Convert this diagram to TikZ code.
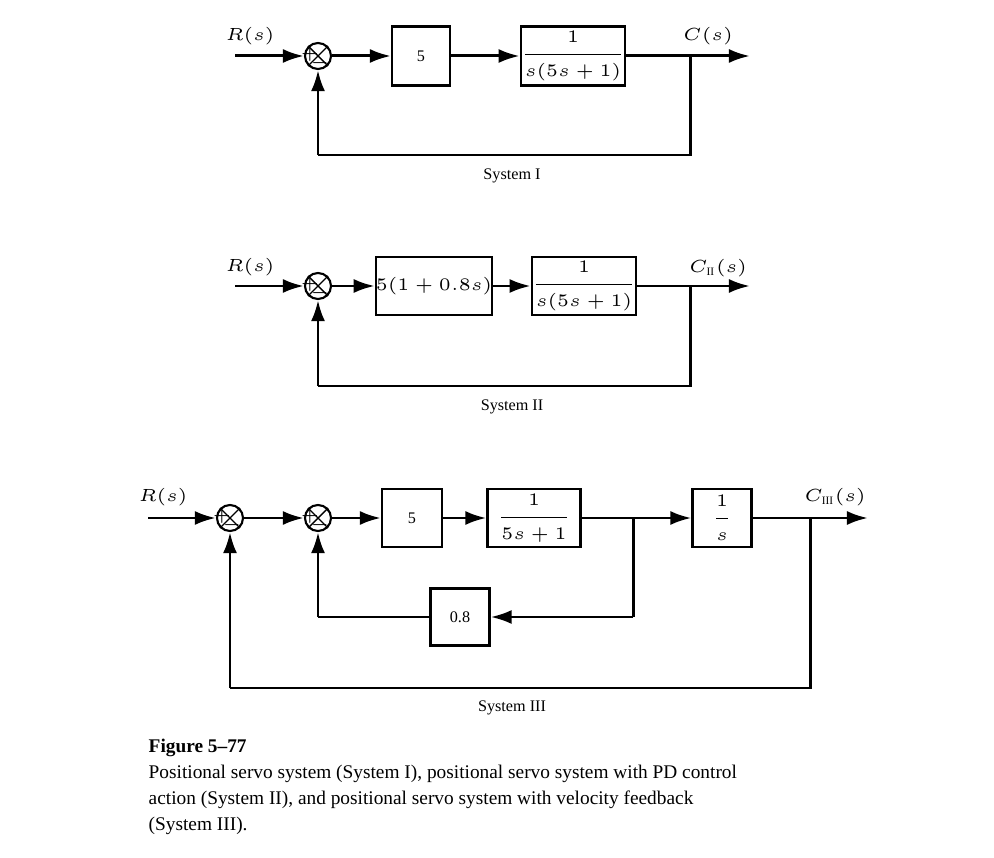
\documentclass[tikz,border=0pt]{standalone}
\usepackage{amsmath}
\usepackage{fontspec}
\setmainfont{Liberation Serif}
\usetikzlibrary{arrows.meta,calc}
\begin{document}
\begin{tikzpicture}[x=0.01cm,y=-0.01cm,
  sig/.style={line width=0.85pt,-{Latex[length=6pt,width=4pt]}},
  ln/.style={line width=0.85pt},
  blk/.style={draw,line width=0.6pt,inner sep=0pt,font=\fontsize{4.6}{5.5}\selectfont},
  sum/.style={draw,circle,line width=0.6pt,minimum size=0.26cm,inner sep=0pt},
  lab/.style={font=\fontsize{4.6}{5.5}\selectfont,inner sep=0pt},
  captxt/.style={font=\fontsize{5.5}{7.4}\selectfont,inner sep=0pt,anchor=west}]
\useasboundingbox (0,0) rectangle (994,858);
\newcommand{\sumj}[2]{%
  \node[sum] (#1) at #2 {};
  \draw[line width=0.4pt] (#1.north west)--(#1.south east) (#1.north east)--(#1.south west);
  \node[lab,font=\fontsize{4}{4}\selectfont] at ($(#1)+(-8,-2)$) {$+$};
  \node[lab,font=\fontsize{4}{4}\selectfont] at ($(#1)+(2,7)$) {$-$};}
% ---- System I
\coordinate (r1) at (235,56);
\sumj{s1}{(318,56)}
\node[blk,minimum width=58*0.01cm,minimum height=59*0.01cm] (g1) at (421,56) {5};
\node[blk,minimum width=104*0.01cm,minimum height=59*0.01cm] (p1) at (573,56) {$\dfrac{1}{s(5s+1)}$};
\coordinate (b1) at (690,56); \coordinate (o1) at (750,56);
\coordinate (f1) at (690,155); \coordinate (h1) at (318,155);
\draw[sig] (r1)--(s1.west);
\draw[sig] (s1.east)--(g1.west);
\draw[sig] (g1.east)--(p1.west);
\draw[sig] (p1.east)--(o1);
\draw[ln] (b1)--(f1)--(h1);
\draw[sig] (h1)--(s1.south);
\node[lab] (lr1) at (250,36) {$R(s)$};
\node[lab] (lc1) at (708,36) {$C(s)$};
\node[lab] (t1) at (512,176) {System I};
% ---- System II
\coordinate (r2) at (235,286);
\sumj{s2}{(318,286)}
\node[blk,minimum width=105*0.01cm,minimum height=58*0.01cm] (g2) at (434,286) {$5(1+0.8s)$};
\node[blk,minimum width=104*0.01cm,minimum height=58*0.01cm] (p2) at (584,286) {$\dfrac{1}{s(5s+1)}$};
\coordinate (b2) at (690,286); \coordinate (o2) at (750,286);
\coordinate (f2) at (690,386); \coordinate (h2) at (318,386);
\draw[sig] (r2)--(s2.west);
\draw[sig] (s2.east)--(g2.west);
\draw[sig] (g2.east)--(p2.west);
\draw[sig] (p2.east)--(o2);
\draw[ln] (b2)--(f2)--(h2);
\draw[sig] (h2)--(s2.south);
\node[lab] (lr2) at (250,267) {$R(s)$};
\node[lab] (lc2) at (718,268) {$C_{\mathrm{II}}(s)$};
\node[lab] (t2) at (512,407) {System II};
% ---- System III
\coordinate (r3) at (148,518);
\sumj{s3}{(230,518)}
\sumj{s4}{(318,518)}
\node[blk,minimum width=60*0.01cm,minimum height=58*0.01cm] (g3) at (412,518) {5};
\node[blk,minimum width=93*0.01cm,minimum height=58*0.01cm] (p3) at (534,518) {$\dfrac{1}{5s+1}$};
\node[blk,minimum width=59*0.01cm,minimum height=58*0.01cm] (q3) at (722,518) {$\dfrac{1}{s}$};
\node[blk,minimum width=59*0.01cm,minimum height=57*0.01cm] (k3) at (460,617) {0.8};
\coordinate (b3) at (633,518); \coordinate (i3) at (633,617);
\coordinate (h3) at (318,617);
\coordinate (b4) at (810,518); \coordinate (o3) at (868,518);
\coordinate (f4) at (810,688); \coordinate (h4) at (230,688);
\draw[sig] (r3)--(s3.west);
\draw[sig] (s3.east)--(s4.west);
\draw[sig] (s4.east)--(g3.west);
\draw[sig] (g3.east)--(p3.west);
\draw[sig] (p3.east)--(q3.west);
\draw[sig] (q3.east)--(o3);
\draw[ln] (b3)--(i3);
\draw[sig] (i3)--(k3.east);
\draw[ln] (k3.west)--(h3);
\draw[sig] (h3)--(s4.south);
\draw[ln] (b4)--(f4)--(h4);
\draw[sig] (h4)--(s3.south);
\node[lab] (lr3) at (163,497) {$R(s)$};
\node[lab] (lc3) at (835,497) {$C_{\mathrm{III}}(s)$};
\node[lab] (t3) at (512,708) {System III};
% ---- caption
\node[captxt,font=\fontsize{5.5}{7.4}\selectfont\bfseries] (fig) at (148,748) {Figure 5–77};
\node[captxt] (c1) at (148,774) {Positional servo system (System I), positional servo system with PD control};
\node[captxt] (c2) at (148,800) {action (System II), and positional servo system with velocity feedback};
\node[captxt] (c3) at (148,826) {(System III).};
\end{tikzpicture}
\end{document}
